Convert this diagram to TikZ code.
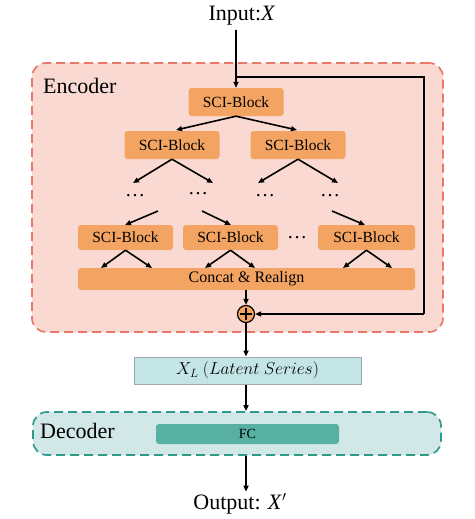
\documentclass[tikz,border=0pt]{standalone}
\usepackage{fontspec}
\setmainfont{Liberation Serif}
\usetikzlibrary{arrows.meta,positioning,calc}
\definecolor{encfill}{HTML}{F9D9D2}
\definecolor{encline}{HTML}{E8796A}
\definecolor{sci}{HTML}{F4A462}
\definecolor{latfill}{HTML}{C3E5E6}
\definecolor{latline}{HTML}{A0A8AA}
\definecolor{decfill}{HTML}{D2E8E8}
\definecolor{decline}{HTML}{2E9B8A}
\definecolor{fcfill}{HTML}{58B0A3}
\begin{document}
\begin{tikzpicture}[x=1pt,y=-1pt,
  sciblock/.style={fill=sci,rounded corners=3pt,minimum width=95pt,minimum height=28pt,inner sep=0pt,font=\fontsize{15.5}{16}\selectfont},
  arr/.style={-{Triangle[length=6pt,width=5pt]},line width=1.6pt,black},
  dotsn/.style={font=\fontsize{20}{20}\selectfont,inner sep=0pt},
  big/.style={font=\fontsize{22}{24}\selectfont,inner sep=0pt}]
\useasboundingbox (0,0) rectangle (474,519);
% encoder container
\node[draw=encline,fill=encfill,dashed,dash pattern=on 9pt off 5pt,line width=1.7pt,rounded corners=14pt,minimum width=411pt,minimum height=269pt,inner sep=0pt] (enc) at (237.5,197.5) {};
\node[big,anchor=west] (enclabel) at (43,86) {Encoder};
% decoder container
\node[draw=decline,fill=decfill,dashed,dash pattern=on 9pt off 5pt,line width=1.7pt,rounded corners=14pt,minimum width=408pt,minimum height=43pt,inner sep=0pt] (dec) at (237,433.5) {};
\node[big,anchor=west] (declabel) at (40,431) {Decoder};
% input / output
\node[big] (input) at (242,16) {Input:\textit{X}};
\node[big] (output) at (240,504) {Output: \textit{X}$^{\prime}$};
% SCI blocks
\node[sciblock] (s1) at (236,102) {SCI-Block};
\node[sciblock] (s21) at (172,145) {SCI-Block};
\node[sciblock] (s22) at (298,145) {SCI-Block};
\node[sciblock,minimum height=25pt] (s31) at (125.5,237.5) {SCI-Block};
\node[sciblock,minimum height=25pt] (s32) at (230.5,237.5) {SCI-Block};
\node[sciblock,minimum height=25pt,minimum width=97pt] (s33) at (366.5,237.5) {SCI-Block};
\node[dotsn] (d5) at (297,238) {\ldots};
% dots row
\node[dotsn] (d1) at (135,196) {\ldots};
\node[dotsn] (d2) at (198,194) {\ldots};
\node[dotsn] (d3) at (265,196) {\ldots};
\node[dotsn] (d4) at (330,196) {\ldots};
% concat
\node[fill=sci,rounded corners=3pt,minimum width=337pt,minimum height=22pt,inner sep=0pt,font=\fontsize{16}{16}\selectfont] (cat) at (246.5,279) {Concat \& Realign};
% plus
\node[circle,draw=black,fill=sci,line width=1.2pt,minimum size=17pt,inner sep=0pt] (plus) at (246,314) {};
\draw[line width=1.2pt] ($(plus.center)+(-6,0)$) -- ($(plus.center)+(6,0)$) ($(plus.center)+(0,-6)$) -- ($(plus.center)+(0,6)$);
% latent
\node[draw=latline,fill=latfill,line width=1pt,minimum width=227pt,minimum height=27pt,inner sep=0pt,font=\fontsize{17}{18}\selectfont] (lat) at (247.5,370.5) {$X_L\ (Latent\ Series)$};
% FC
\node[fill=fcfill,rounded corners=3pt,minimum width=183pt,minimum height=20pt,inner sep=0pt,font=\fontsize{14}{14}\selectfont] (fc) at (247.5,434) {FC};
% coordinates
\coordinate (jn) at (236,77);
\coordinate (fbr) at (424,77);
\coordinate (fbb) at (424,314);
\coordinate (a1) at (176,130);
\coordinate (a2) at (297,130);
\coordinate (b1) at (133,183);
\coordinate (b2) at (213,183);
\coordinate (b3) at (258,183);
\coordinate (b4) at (338,183);
\coordinate (c1s) at (158,211);
\coordinate (c2s) at (202,211);
\coordinate (c3s) at (332,211);
\coordinate (c1) at (125,225);
\coordinate (c2) at (231,225);
\coordinate (c3) at (365,225);
\coordinate (e1) at (101,268);
\coordinate (e2) at (152,268);
\coordinate (e3) at (205,268);
\coordinate (e4) at (255,268);
\coordinate (e5) at (343,268);
\coordinate (e6) at (392,268);
% connectors
\draw[arr] (input.south -| s1.north) ++(0,4) coordinate (inp) -- (s1.north);
\draw[line width=1.6pt] (jn) -- (fbr) -- (fbb);
\draw[arr] (fbb) -- (plus.east);
\draw[arr] (s1.south) -- (a1);
\draw[arr] (s1.south) -- (a2);
\draw[arr] (s21.south) -- (b1);
\draw[arr] (s21.south) -- (b2);
\draw[arr] (s22.south) -- (b3);
\draw[arr] (s22.south) -- (b4);
\draw[arr] (c1s) -- (c1);
\draw[arr] (c2s) -- (c2);
\draw[arr] (c3s) -- (c3);
\draw[arr] (s31.south) -- (e1);
\draw[arr] (s31.south) -- (e2);
\draw[arr] (s32.south) -- (e3);
\draw[arr] (s32.south) -- (e4);
\draw[arr] (s33.south) -- (e5);
\draw[arr] (s33.south) -- (e6);
\draw[arr] (cat.south -| plus.north) -- (plus.north);
\draw[arr] (plus.south) -- (lat.north -| plus.south);
\draw[arr] (lat.south -| plus.south) -- (dec.north -| plus.south);
\draw[arr] (dec.south -| plus.south) -- ($(output.north -| plus.south)+(0,-2)$);
\end{tikzpicture}
\end{document}
